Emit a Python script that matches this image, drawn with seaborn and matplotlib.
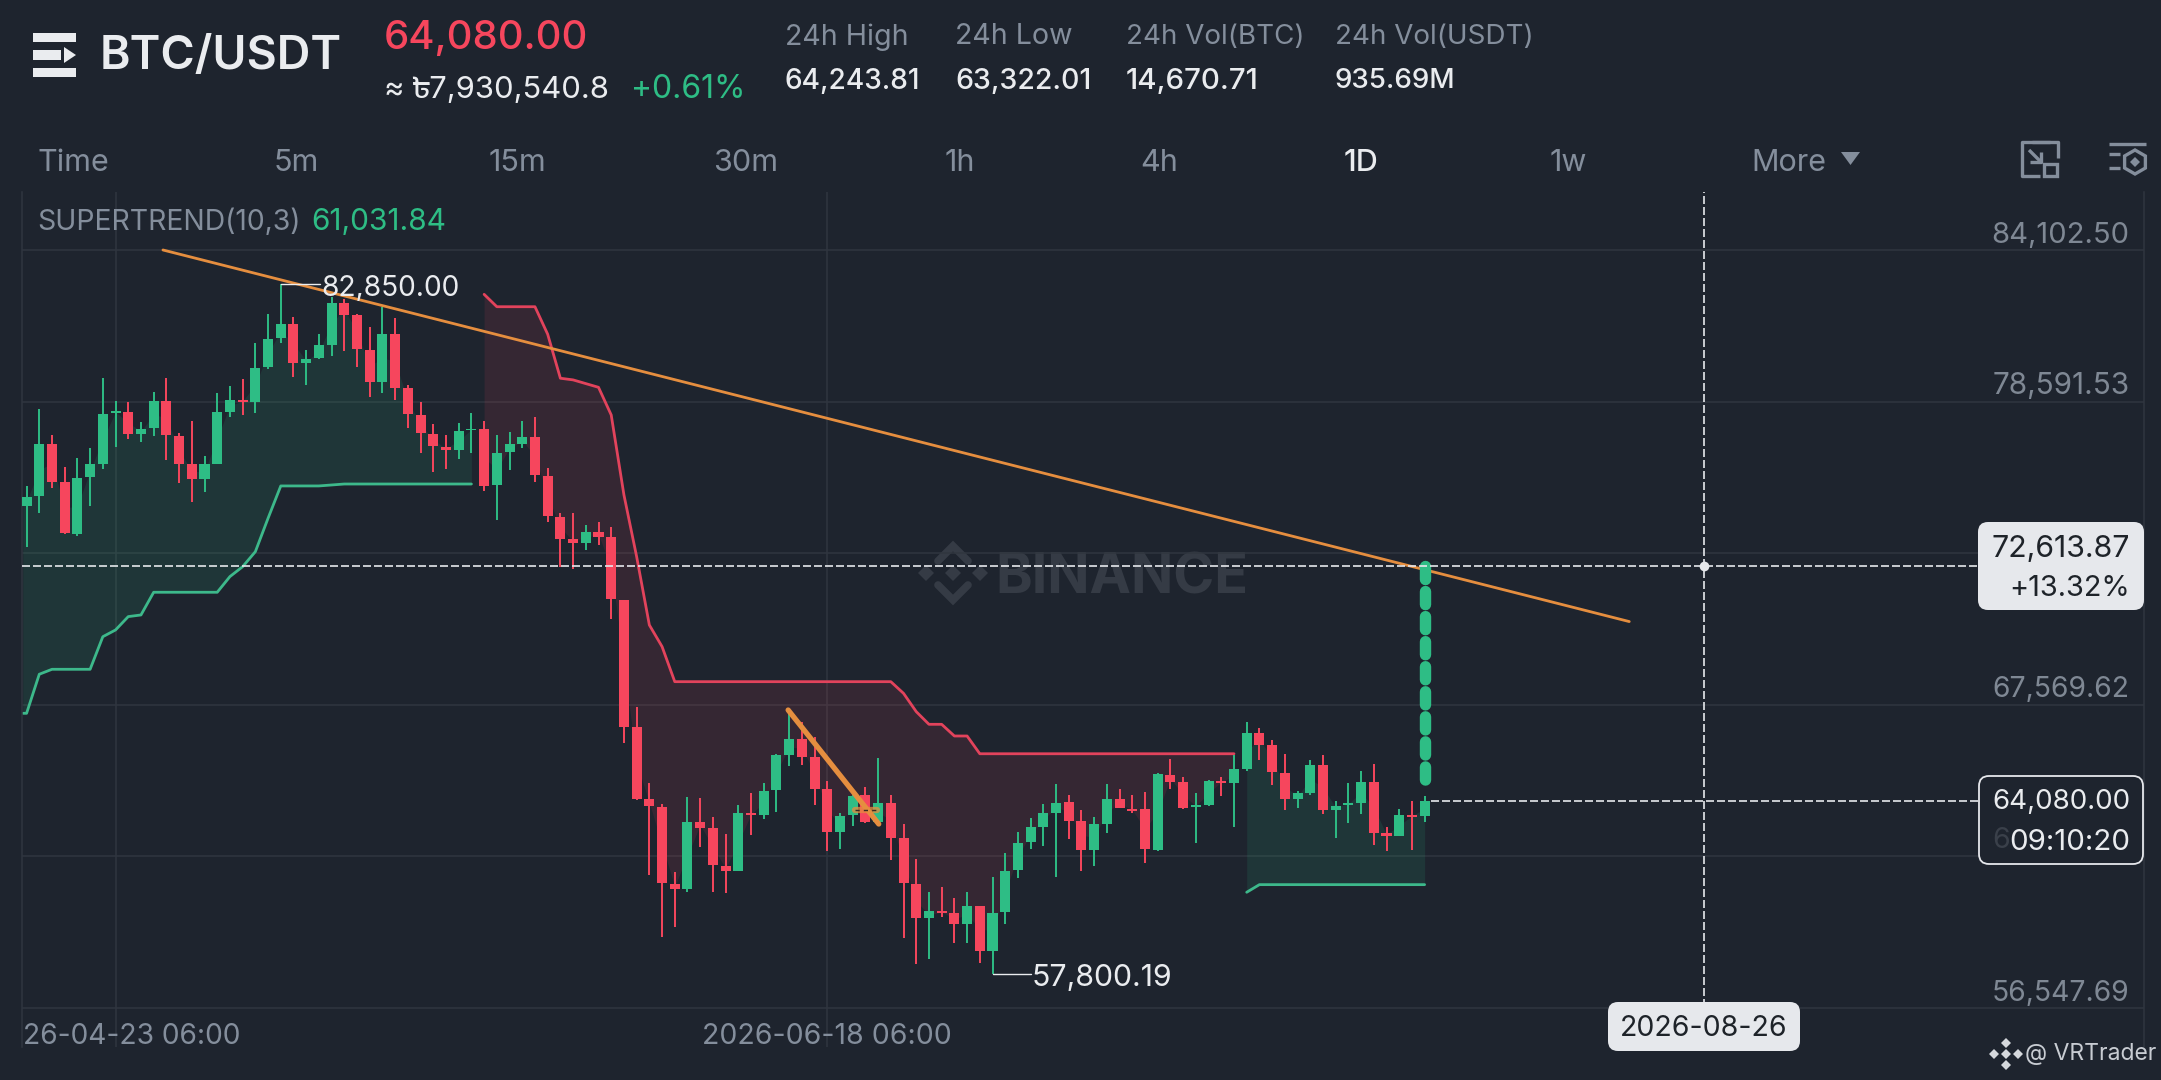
import numpy as np
import matplotlib
matplotlib.use("Agg")
import matplotlib.pyplot as plt
from matplotlib import font_manager
from matplotlib.patches import FancyBboxPatch, Polygon, Rectangle, RegularPolygon
import seaborn as sns

BG = "#1E242E"
GRID = "#30363F"
GREEN = "#2EBD85"
RED = "#F6465D"
ORANGE = "#E58E3F"
GRAY = "#848E9C"
WHITE = "#EAECEF"

# ---- candles ----
opens = [74810,75160,77040,75660,73770,75840,76320,78190,78230,77430,
         77620,78630,77340,76310,75790,76320,78230,78650,78565,79840,
         80890,81410,79995,80180,80650,82190,81730,80470,79300,81050,
         79075,78105,77415,76950,76830,77550,77585,75550,76750,77050,
         77295,75900,74410,73585,73465,73850,73660,71380,66750,64135,
         63865,61055,60885,63320,63080,61725,61515,63625,63575,64475,
         65745,66315,65660,64500,62960,63550,64280,63310,64015,62715,
         61055,59810,60075,60015,59590,60255,58635,60025,61565,62595,
         63140,63650,64035,63360,62290,63225,64160,63795,63770,62290,
         65020,64765,63855,63915,64815,64715,65225,66535,66110,65080,
         64135,64350,65395,63760,63940,63990,64765,62900,62815,63565,
         63530]
closes = [75140,77040,75680,73800,75800,76310,78140,78240,77410,77600,
          78630,77365,76320,75790,76310,78200,78650,78580,79825,80855,
          81410,79980,80150,80640,82190,81730,80490,79300,81050,79075,
          78140,77440,76990,76830,77510,77610,75525,76710,77040,77295,
          75925,74435,73610,73465,73850,73680,71415,66750,64135,63890,
          61080,60885,63320,63080,61745,61515,63625,63550,64450,65745,
          66315,65685,64520,62960,63530,64255,63310,64015,62740,61080,
          59810,60075,59990,59590,60255,58635,60015,61540,62560,63140,
          63650,64015,63360,62290,63225,64135,63820,63700,62340,65055,
          64765,63805,63930,64815,64715,65250,66535,66110,65115,64135,
          64365,65395,63745,63905,64015,64765,62900,62815,63565,63490,
          64080]
highs = [75520,78310,77380,76225,76530,76895,79435,78625,78575,77860,
         78930,79460,77440,77900,76615,78890,79160,79425,80735,81775,
         82850,81680,80465,81035,82405,82310,81765,81290,82045,81620,
         79195,78565,77775,77380,77825,78165,77900,77380,77500,77885,
         78045,76165,74555,74530,74105,74225,74045,71380,67500,64740,
         63965,61505,64230,64170,63505,62860,63930,64375,64740,65780,
         67380,66955,66410,64800,63650,64290,64570,65625,64280,63235,
         61955,60755,60935,60535,60780,60255,61325,62195,62960,63445,
         63965,64680,64290,63745,63480,64680,64500,64280,64415,65080,
         65590,64960,64375,64835,64935,65745,66935,66715,66290,65780,
         64450,65565,65735,64085,64740,65175,65405,63140,63770,64075,
         64243]
lows = [73320,74530,75440,73765,73720,74795,76130,76955,77245,77135,
        77340,76470,75645,74940,75320,76320,78045,78090,78165,79790,
        80710,79500,79185,80130,80250,80445,79835,78745,78915,78650,
        77620,76710,76045,76130,76495,76710,75355,74290,76105,76895,
        75680,74225,72590,72495,73195,73380,70675,66195,64110,61385,
        59140,59505,60765,62415,60780,60740,61515,62835,63405,63685,
        65345,65370,63915,62270,62315,63165,63285,63200,61930,59105,
        58135,58340,59870,58900,58900,58195,57800.19,59600,61260,62330,
        62440,61325,62680,61540,61710,62920,63820,63650,61830,62270,
        64500,63770,62535,63890,64265,63115,65150,65565,64645,63745,
        63805,64290,63600,62740,63260,63600,62460,62270,62800,62290,
        63322]

# ---- SUPERTREND(10,3) ----
trend_up_a = [67260,68680,68860,68860,68860,68860,70045,70290,70775,70835,
              71660,71660,71660,71660,71660,71660,72230,72590,73135,74350,
              75525,75525,75525,75525,75560,75595,75595,75595,75595,75595,
              75595,75595,75595,75595,75595,75595]
trend_down = [82490,82040,82040,82040,82040,81040,79440,79380,79245,79110,
              78105,75200,72955,70470,69685,68410,68410,68410,68410,68410,
              68410,68410,68410,68410,68410,68410,68410,68410,68410,68410,
              68410,68410,68410,67985,67320,66860,66860,66435,66435,65790,
              65790,65790,65790,65790,65790,65790,65790,65790,65790,65790,
              65790,65790,65790,65790,65790,65790,65790,65790,65790,65790]
trend_up_b = [60755,61032,61032,61032,61032,61032,61032,61032,61032,61032,
              61032,61032,61032,61032,61031.84]

# ---- drawn lines (bar index, price) ----
resist_bars = [10.73, 126.1]
resist_prices = [84102.5, 70595]
short_bars = [59.92, 67.05]
short_prices = [67380, 63235]
handle_bars = [65.2, 66.9]
handle_prices = [63745, 63745]
target_price = 72613.87
target_end = 64535
last_price = 64080.00

# ---- axes ----
price_ticks = [84102.50, 78591.53, 73080.56, 67569.62, 62058.66, 56547.69]
price_labels = ["84,102.50", "78,591.53", "", "67,569.62", "", "56,547.69"]
price_label_sizes = [21, 21.4, 0, 20.4, 0, 20.4]
date_ticks = [7, 63]
crosshair_bar = 132
tabs = ["Time", "5m", "15m", "30m", "1h", "4h", "1D", "1w", "More"]
stat_names = ["24h High", "24h Low", "24h Vol(BTC)", "24h Vol(USDT)"]
stat_values = ["64,243.81", "63,322.01", "14,670.71", "935.69M"]

sns.set_theme(style="dark", rc={
    "figure.facecolor": BG, "axes.facecolor": BG, "savefig.facecolor": BG,
    "axes.edgecolor": GRID, "grid.color": GRID, "text.color": WHITE,
})
FONT = ["Inter", "Noto Sans", "DejaVu Sans"]
plt.rcParams["font.family"] = FONT


def family_with(ch):
    names = sorted({(f.name, f.fname) for f in font_manager.fontManager.ttflist})
    for name, path in names:
        try:
            if ord(ch) in font_manager.get_font(path).get_charmap():
                return name
        except Exception:
            continue
    return "DejaVu Sans"


W, H = 2161, 1080
fig = plt.figure(figsize=(W / 100, H / 100), dpi=100)
L, R, T, B = 22, 2144, 192, 1047
ax = fig.add_axes([L / W, 1 - B / H, (R - L) / W, (B - T) / H])
ov = fig.add_axes([0, 0, 1, 1], zorder=5, facecolor="none")
ov.set_xlim(0, W)
ov.set_ylim(H, 0)
ov.axis("off")

bars = np.arange(len(opens))
o, c, hi, lo = map(np.array, (opens, closes, highs, lows))
up = c >= o
mid = (o + c) / 2

# grid
ax.set_yticks(price_ticks)
ax.set_xticks(date_ticks)
ax.set_xticklabels([])
ax.set_yticklabels([])
ax.tick_params(length=0)
ax.grid(True, color=GRID, lw=1.1, zorder=0)
ax.set_axisbelow(True)
for s in ("top", "bottom"):
    ax.spines[s].set_visible(False)
for s in ("left", "right"):
    ax.spines[s].set_color(GRID)
    ax.spines[s].set_linewidth(1.1)

# watermark
WM = "#353B45"
ax.text(1122, 578, "BINANCE", transform=ov.transData, ha="center", va="center",
        fontsize=40, fontweight="bold", color=WM, zorder=0.5)
for xs, ys in (([938, 953, 968], [561, 546, 561]), ([938, 953, 968], [585, 600, 585])):
    ax.plot(xs, ys, transform=ov.transData, color=WM, lw=5.5, zorder=0.5,
            solid_joinstyle="miter", scalex=False, scaley=False)
ax.plot([926, 953, 980], [573, 573, 573], ls="none", marker="D", ms=8, mew=0, color=WM,
        transform=ov.transData, zorder=0.5, scalex=False, scaley=False)

# supertrend fills and lines
LEFT_EDGE = -0.3
idx_a = bars[:len(trend_up_a)]
idx_d = bars[len(trend_up_a):len(trend_up_a) + len(trend_down)]
idx_b = bars[len(trend_up_a) + len(trend_down):]
ax.fill_between(np.r_[LEFT_EDGE, idx_a], np.r_[trend_up_a[0], trend_up_a], np.r_[mid[0], mid[idx_a]],
                color=GREEN, alpha=0.12, lw=0, zorder=1)
ax.fill_between(idx_d, trend_down, mid[idx_d], color=RED, alpha=0.11, lw=0, zorder=1)
ax.fill_between(idx_b, trend_up_b, mid[idx_b], color=GREEN, alpha=0.12, lw=0, zorder=1)
for xs, ys, col in ((np.r_[LEFT_EDGE, idx_a], np.r_[trend_up_a[0], trend_up_a], "#3DB98B"),
                    (idx_d, trend_down, "#E2435C"), (idx_b, trend_up_b, "#3DB98B")):
    sns.lineplot(x=xs, y=ys, ax=ax, color=col, lw=2.0, estimator=None, sort=False, legend=False, zorder=2)

# candles
colors = np.where(up, GREEN, RED)
ax.vlines(bars, lo, hi, colors=colors, lw=1.4, zorder=3)
ax.bar(bars, np.abs(c - o), bottom=np.minimum(o, c), width=0.79, color=colors, lw=0, zorder=3)

# drawn lines
sns.lineplot(x=resist_bars, y=resist_prices, ax=ax, color=ORANGE, lw=2.0, estimator=None, legend=False, zorder=4)
sns.lineplot(x=short_bars, y=short_prices, ax=ax, color=ORANGE, lw=3.8, estimator=None, legend=False, zorder=4)
ax.lines[-1].set_solid_capstyle("round")
ax.plot(handle_bars, handle_prices, color=ORANGE, lw=4.5, alpha=0.75, solid_capstyle="round", zorder=4)
ax.plot(handle_bars, handle_prices, color="#3A2A22", lw=1.0, ls=(0, (3, 3)), zorder=4)

# projection
ax.plot([bars[-1], bars[-1]], [target_price, target_end], color=GREEN, lw=8.2,
        ls=(0, (1.15, 1.05)), dash_capstyle="round", zorder=4)

# crosshair
dash = dict(color="#E6E8EC", lw=1.2, ls=(0, (4.8, 1.8)), zorder=4)
box_left_bar = 153.5
ax.plot([-0.36, box_left_bar], [target_price, target_price], **dash)
ax.plot([bars[-1] + 0.5, box_left_bar], [last_price, last_price], **dash)
ax.plot([crosshair_bar, crosshair_bar], [55800, 86210], **dash)
ax.plot([crosshair_bar], [target_price], "o", ms=7, mew=0, color="#E6E8EC", zorder=5)

# high / low leaders
ax.plot([20, 23.1], [82850, 82850], color=WHITE, lw=1.0, zorder=4)
ax.plot([76, 79.0], [57800.19, 57800.19], color=WHITE, lw=1.0, zorder=4)
ax.annotate("82,850.00", (23.2, 82850), xytext=(0, -3), textcoords="offset points",
            va="center", fontsize=20.3, color=WHITE, zorder=6)
ax.annotate("57,800.19", (79.1, 57800.19), xytext=(0, -3), textcoords="offset points",
            va="center", fontsize=21.8, color=WHITE, zorder=6)

# price labels
for tick, lab, size in zip(price_ticks, price_labels, price_label_sizes):
    if lab:
        ax.annotate(lab, (1, tick), xycoords=("axes fraction", "data"), xytext=(-10.5, 1),
                    textcoords="offset points", ha="right", va="bottom", fontsize=size, color="#7F8894", zorder=1.5)

ax.set_xlim(-0.36, 166.6)
ax.set_ylim(55130, 86210)


# --- overlay, pixel coordinates ---
def txt(x, y, s, size=20.5, color=WHITE, ha="left", weight="normal", **kw):
    return ov.text(x, y + 3, s, fontsize=size, color=color, ha=ha, va="center", fontweight=weight, **kw)


def rbox(x0, y0, x1, y1, fc, ec="none", lw=0, r=10, alpha=None):
    ov.add_patch(FancyBboxPatch((x0 + r, y0 + r), x1 - x0 - 2 * r, y1 - y0 - 2 * r,
                                boxstyle=f"round,pad={r},rounding_size={r}", fc=fc, ec=ec, lw=lw, alpha=alpha))


# menu icon
for y0, y1, x1 in ((33, 42, 76), (50, 60, 61), (68, 77, 76)):
    ov.add_patch(Rectangle((33, y0), x1 - 33, y1 - y0, fc=WHITE, ec="none"))
ov.add_patch(Polygon([(64, 47), (64, 63), (76, 55)], fc=WHITE, ec="none"))

txt(100, 53.5, "BTC/USDT", size=33.5, weight="semibold")
txt(384, 35.5, "64,080.00", size=28.8, color=RED, weight="medium")
taka = family_with("\u09f3")
txt(384, 87, "≈ \u09f37,930,540.8", size=22.3, family=["Inter", taka, "DejaVu Sans"])
txt(631, 87, "+0.61%", size=23, color=GREEN)
for x, n, v, sn, sv in zip((785, 955, 1126, 1335), stat_names, stat_values,
                           (20.6, 20.6, 20.0, 20), (20.2, 20.5, 21.2, 20)):
    txt(x, 34, n, size=sn, color=GRAY)
    txt(x, 78, v, size=sv, weight="medium")

tab_x = (73, 296, 517, 746, 960, 1159, 1361, 1568, 1789)
for x, t in zip(tab_x, tabs):
    active = t == "1D"
    txt(x, 160, t, size=22, color=WHITE if active else GRAY,
        ha="center", weight="medium" if active else "normal")
ov.add_patch(Polygon([(1841, 152), (1860, 152), (1850.5, 165)], fc=GRAY, ec="none"))

# right icons
ic = dict(color=GRAY, lw=2.4, solid_capstyle="butt")
ov.plot([2050, 2022, 2022, 2040], [141.5, 141.5, 176, 176], **ic)
ov.plot([2032, 2058, 2058], [141.5, 141.5, 158], **ic)
ov.plot([2029, 2041], [150, 162], **ic)
ov.plot([2041, 2041, 2030], [152, 162, 162], **ic)
ov.add_patch(Rectangle((2044, 164), 13, 12, fc="none", ec=GRAY, lw=2.4))
ov.plot([2109, 2146], [144, 144], **ic)
ov.plot([2109, 2120], [154, 154], **ic)
ov.plot([2109, 2120], [168, 168], **ic)
ov.add_patch(RegularPolygon((2135, 162), 6, radius=12, fc="none", ec=GRAY, lw=2.4))
ov.plot([2135], [162], "D", ms=5, color=GRAY, mew=0)

txt(37, 219, "SUPERTREND(10,3)", size=20.4, color=GRAY)
txt(311, 219, "61,031.84", size=21.5, color=GREEN)

# bottom labels
txt(23, 1033, "26-04-23 06:00", size=20.3, color=GRAY)
txt(827, 1033, "2026-06-18 06:00", color=GRAY, ha="center")

# price boxes
rbox(1978, 522, 2144, 610, "#E6E8EC")
txt(2130, 546, "72,613.87", size=21.8, color="#1E2329", ha="right")
txt(2130, 586, "+13.32%", size=20.8, color="#1E2329", ha="right")
rbox(1979, 776, 2143, 864, BG, ec="#E6E8EC", lw=1.3)
txt(1992, 838, "6", size=20.5, color="#3A404A")
txt(2130, 799, "64,080.00", size=20, ha="right")
txt(2130, 839, "09:10:20", size=21.3, ha="right")
rbox(1608, 1002, 1800, 1051, "#E6E8EC")
txt(1704, 1025, "2026-08-26", color="#1E2329", ha="center")

# credit
ov.plot([2006, 1994, 2018, 2006, 2006], [1043, 1054, 1054, 1054, 1065], ls="none", marker="D", ms=5, mew=0, color="#D5D8DC")
txt(2025, 1051, "@ VRTrader", size=16.5, color="#C8CCD2")

fig.savefig("out.png", dpi=100, facecolor=BG)
